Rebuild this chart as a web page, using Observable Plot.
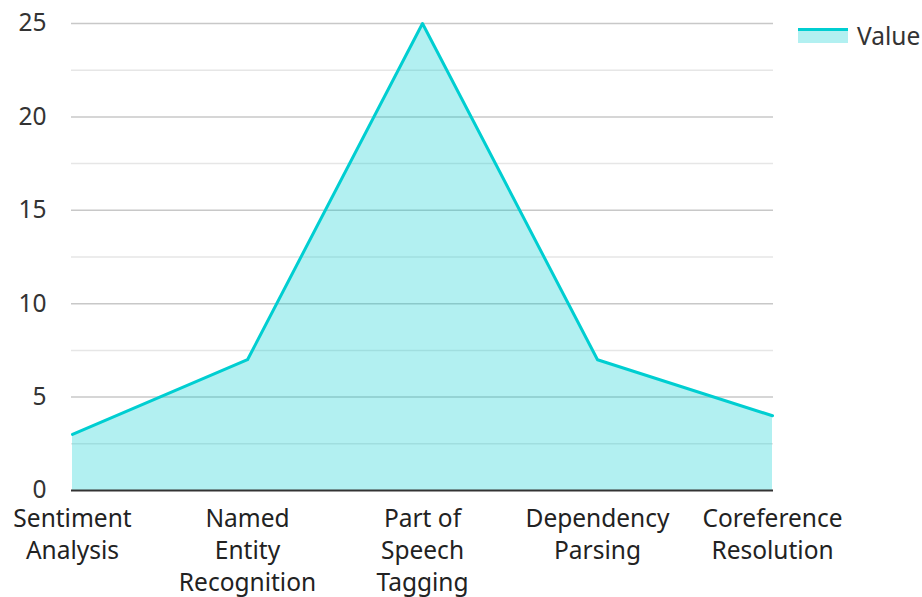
<!DOCTYPE html>
<html>
<head>
<meta charset="utf-8">
<script src="https://cdn.jsdelivr.net/npm/d3@7"></script>
<script src="https://cdn.jsdelivr.net/npm/@observablehq/plot@0.6"></script>
<style>
  html, body { margin: 0; padding: 0; background: #fff; }
  #wrap { position: relative; width: 922px; height: 597px; font-family: "Noto Sans", sans-serif; }
  #legend { position: absolute; left: 798px; top: 19px; display: flex; align-items: center; font-size: 24.5px; color: #333; }
  #legend .sw { width: 50px; height: 15px; position: relative; margin-right: 9px; background: rgba(0,206,209,0.3); border-top: 3px solid #00CED1; box-sizing: border-box; }
</style>
</head>
<body>
<div id="wrap"><div id="legend"><span class="sw"></span><span>Value</span></div></div>
<script>
const categories = ["Sentiment Analysis", "Named Entity Recognition", "Part of Speech Tagging", "Dependency Parsing", "Coreference Resolution"];
const tickLabels = ["Sentiment\nAnalysis", "Named\nEntity\nRecognition", "Part of\nSpeech\nTagging", "Dependency\nParsing", "Coreference\nResolution"];
const values = [3, 7, 25, 7, 4];
const yTicks = [0, 5, 10, 15, 20, 25];
const yMinor = [2.5, 7.5, 12.5, 17.5, 22.5];

const data = categories.map((c, i) => ({category: c, value: values[i]}));
const labelOf = new Map(categories.map((c, i) => [c, tickLabels[i]]));

const chart = Plot.plot({
  width: 922,
  height: 597,
  marginLeft: 71,
  marginRight: 149,
  marginTop: 23,
  marginBottom: 107,
  style: {fontFamily: "Noto Sans, sans-serif", fontSize: "24px", color: "#333", background: "transparent", overflow: "visible"},
  x: {type: "point", domain: categories, padding: 0},
  y: {domain: [0, 25]},
  marks: [
    Plot.ruleY(yMinor, {stroke: "#e6e6e6", strokeWidth: 1.5}),
    Plot.ruleY(yTicks.filter(d => d > 0), {stroke: "#c8c8c8", strokeWidth: 1.5}),
    Plot.areaY(data, {x: "category", y: "value", fill: "#00CED1", fillOpacity: 0.3}),
    Plot.lineY(data, {x: "category", y: "value", stroke: "#00CED1", strokeWidth: 3}),
    Plot.ruleY([0], {stroke: "#333", strokeWidth: 2}),
    Plot.axisY({ticks: yTicks, tickSize: 0, tickPadding: 25, label: null, fontSize: 24.5, fill: "#333"}),
    Plot.axisX({tickSize: 0, tickPadding: 14, label: null, fontSize: 24.5, fill: "#222", lineHeight: 1.31, tickFormat: d => labelOf.get(d)})
  ]
});
document.getElementById("wrap").prepend(chart);
</script>
</body>
</html>
